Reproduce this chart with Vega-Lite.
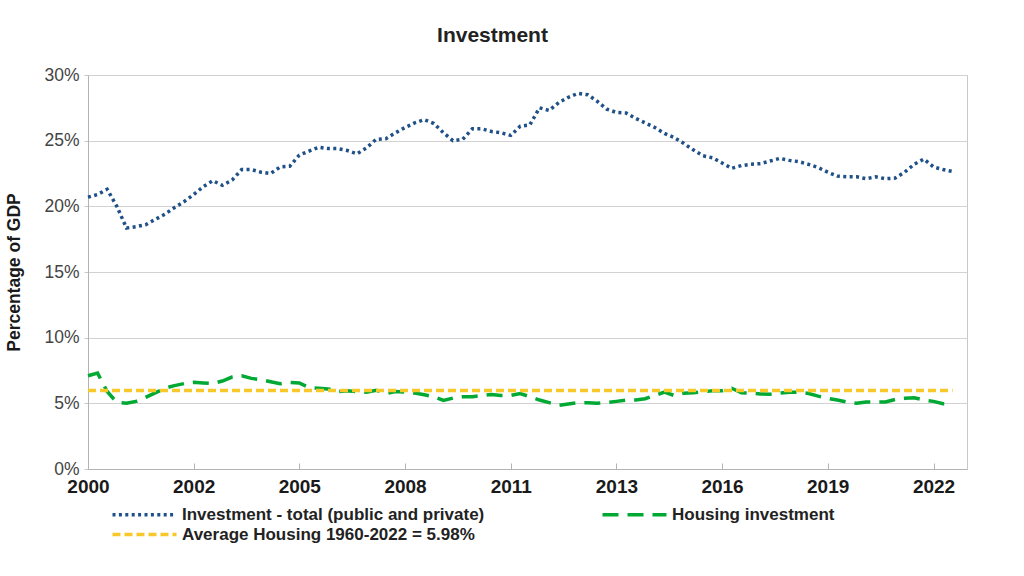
{
  "$schema": "https://vega.github.io/schema/vega-lite/v6.json",
  "width": 879,
  "height": 394,
  "autosize": {"type": "none"},
  "padding": {"left": 88, "top": 75, "right": 57, "bottom": 107},
  "background": "white",
  "config": {
    "font": "Liberation Sans",
    "view": {"stroke": "#c8c8c8", "strokeWidth": 1}
  },
  "title": {
    "text": "Investment",
    "fontSize": 21,
    "fontWeight": "bold",
    "color": "#222222",
    "anchor": "middle",
    "frame": "group",
    "baseline": "alphabetic",
    "offset": 3,
    "dx": -35
  },
  "data": {
    "values": [
      {"date": "2000-01-01", "investment": 20.7, "housing": 7.1},
      {"date": "2000-04-01", "investment": 20.9, "housing": 7.3},
      {"date": "2000-07-01", "investment": 21.3, "housing": 5.9},
      {"date": "2000-10-01", "investment": 20.0, "housing": 5.07},
      {"date": "2001-01-01", "investment": 18.35, "housing": 5.0},
      {"date": "2001-04-01", "investment": 18.45, "housing": 5.15},
      {"date": "2001-07-01", "investment": 18.6, "housing": 5.45},
      {"date": "2001-10-01", "investment": 19.0, "housing": 5.8},
      {"date": "2002-01-01", "investment": 19.4, "housing": 6.15},
      {"date": "2002-04-01", "investment": 19.9, "housing": 6.35},
      {"date": "2002-07-01", "investment": 20.35, "housing": 6.5},
      {"date": "2002-10-01", "investment": 20.9, "housing": 6.6},
      {"date": "2003-01-01", "investment": 21.5, "housing": 6.55},
      {"date": "2003-04-01", "investment": 21.95, "housing": 6.5},
      {"date": "2003-07-01", "investment": 21.6, "housing": 6.7},
      {"date": "2003-10-01", "investment": 22.0, "housing": 7.0},
      {"date": "2004-01-01", "investment": 22.8, "housing": 7.1},
      {"date": "2004-04-01", "investment": 22.8, "housing": 6.9},
      {"date": "2004-07-01", "investment": 22.6, "housing": 6.8},
      {"date": "2004-10-01", "investment": 22.5, "housing": 6.65},
      {"date": "2005-01-01", "investment": 23.0, "housing": 6.5},
      {"date": "2005-04-01", "investment": 23.05, "housing": 6.6},
      {"date": "2005-07-01", "investment": 23.9, "housing": 6.55},
      {"date": "2005-10-01", "investment": 24.2, "housing": 6.2},
      {"date": "2006-01-01", "investment": 24.5, "housing": 6.15},
      {"date": "2006-04-01", "investment": 24.4, "housing": 6.1},
      {"date": "2006-07-01", "investment": 24.4, "housing": 5.9},
      {"date": "2006-10-01", "investment": 24.25, "housing": 5.95},
      {"date": "2007-01-01", "investment": 24.0, "housing": 5.9},
      {"date": "2007-04-01", "investment": 24.45, "housing": 5.85},
      {"date": "2007-07-01", "investment": 25.1, "housing": 6.0},
      {"date": "2007-10-01", "investment": 25.15, "housing": 5.75},
      {"date": "2008-01-01", "investment": 25.6, "housing": 5.9},
      {"date": "2008-04-01", "investment": 26.0, "housing": 5.85},
      {"date": "2008-07-01", "investment": 26.35, "housing": 5.78},
      {"date": "2008-10-01", "investment": 26.6, "housing": 5.65},
      {"date": "2009-01-01", "investment": 26.3, "housing": 5.5},
      {"date": "2009-04-01", "investment": 25.6, "housing": 5.22},
      {"date": "2009-07-01", "investment": 25.0, "housing": 5.4},
      {"date": "2009-10-01", "investment": 25.1, "housing": 5.5},
      {"date": "2010-01-01", "investment": 25.9, "housing": 5.5},
      {"date": "2010-04-01", "investment": 25.9, "housing": 5.6},
      {"date": "2010-07-01", "investment": 25.7, "housing": 5.68},
      {"date": "2010-10-01", "investment": 25.6, "housing": 5.6},
      {"date": "2011-01-01", "investment": 25.4, "housing": 5.6},
      {"date": "2011-04-01", "investment": 26.1, "housing": 5.75},
      {"date": "2011-07-01", "investment": 26.2, "housing": 5.5},
      {"date": "2011-10-01", "investment": 27.5, "housing": 5.25},
      {"date": "2012-01-01", "investment": 27.3, "housing": 5.05},
      {"date": "2012-04-01", "investment": 27.9, "housing": 4.85},
      {"date": "2012-07-01", "investment": 28.3, "housing": 4.95},
      {"date": "2012-10-01", "investment": 28.6, "housing": 5.05},
      {"date": "2013-01-01", "investment": 28.5, "housing": 5.05},
      {"date": "2013-04-01", "investment": 28.0, "housing": 5.0},
      {"date": "2013-07-01", "investment": 27.4, "housing": 5.05},
      {"date": "2013-10-01", "investment": 27.15, "housing": 5.15},
      {"date": "2014-01-01", "investment": 27.1, "housing": 5.25},
      {"date": "2014-04-01", "investment": 26.7, "housing": 5.26},
      {"date": "2014-07-01", "investment": 26.35, "housing": 5.35},
      {"date": "2014-10-01", "investment": 26.0, "housing": 5.6},
      {"date": "2015-01-01", "investment": 25.55, "housing": 5.85},
      {"date": "2015-04-01", "investment": 25.25, "housing": 5.6},
      {"date": "2015-07-01", "investment": 24.8, "housing": 5.77},
      {"date": "2015-10-01", "investment": 24.3, "housing": 5.8},
      {"date": "2016-01-01", "investment": 23.85, "housing": 5.88},
      {"date": "2016-04-01", "investment": 23.7, "housing": 5.95},
      {"date": "2016-07-01", "investment": 23.3, "housing": 5.96},
      {"date": "2016-10-01", "investment": 22.9, "housing": 6.15},
      {"date": "2017-01-01", "investment": 23.1, "housing": 5.8},
      {"date": "2017-04-01", "investment": 23.2, "housing": 5.78},
      {"date": "2017-07-01", "investment": 23.25, "housing": 5.72},
      {"date": "2017-10-01", "investment": 23.45, "housing": 5.7},
      {"date": "2018-01-01", "investment": 23.65, "housing": 5.78},
      {"date": "2018-04-01", "investment": 23.5, "housing": 5.85},
      {"date": "2018-07-01", "investment": 23.4, "housing": 5.85},
      {"date": "2018-10-01", "investment": 23.2, "housing": 5.75},
      {"date": "2019-01-01", "investment": 22.95, "housing": 5.55},
      {"date": "2019-04-01", "investment": 22.6, "housing": 5.38},
      {"date": "2019-07-01", "investment": 22.3, "housing": 5.25},
      {"date": "2019-10-01", "investment": 22.25, "housing": 5.1},
      {"date": "2020-01-01", "investment": 22.25, "housing": 5.0},
      {"date": "2020-04-01", "investment": 22.1, "housing": 5.1},
      {"date": "2020-07-01", "investment": 22.25, "housing": 5.1},
      {"date": "2020-10-01", "investment": 22.1, "housing": 5.1},
      {"date": "2021-01-01", "investment": 22.15, "housing": 5.3},
      {"date": "2021-04-01", "investment": 22.6, "housing": 5.38},
      {"date": "2021-07-01", "investment": 23.2, "housing": 5.43},
      {"date": "2021-10-01", "investment": 23.6, "housing": 5.25},
      {"date": "2022-01-01", "investment": 23.0, "housing": 5.15},
      {"date": "2022-04-01", "investment": 22.8, "housing": 4.97},
      {"date": "2022-07-01", "investment": 22.65, "housing": 4.95}
    ]
  },
  "encoding": {
    "x": {
      "field": "date",
      "type": "temporal",
      "scale": {
        "domain": [
          {"year": 2000, "month": 1, "date": 1},
          {"year": 2022, "month": 11, "date": 15}
        ]
      },
      "axis": {
        "title": null,
        "format": "%Y",
        "values": [
          {"year": 2000, "month": 1, "date": 1},
          {"year": 2002, "month": 10, "date": 1},
          {"year": 2005, "month": 7, "date": 1},
          {"year": 2008, "month": 4, "date": 1},
          {"year": 2011, "month": 1, "date": 1},
          {"year": 2013, "month": 10, "date": 1},
          {"year": 2016, "month": 7, "date": 1},
          {"year": 2019, "month": 4, "date": 1},
          {"year": 2022, "month": 1, "date": 1}
        ],
        "grid": false,
        "domainColor": "#b3b3b3",
        "tickColor": "#b3b3b3",
        "tickSize": -6,
        "labelPadding": 14,
        "labelFontSize": 19,
        "labelFontWeight": "bold",
        "labelColor": "#1a1a1a",
        "labelAlign": "center",
        "labelFlush": false,
        "labelOverlap": false
      }
    },
    "y": {
      "field": "value",
      "type": "quantitative",
      "scale": {"domain": [0, 30], "nice": false},
      "axis": {
        "title": "Percentage of GDP",
        "titleFontSize": 17.5,
        "titleFontWeight": "bold",
        "titleColor": "#1a1a1a",
        "titleX": -65,
        "values": [0, 5, 10, 15, 20, 25, 30],
        "labelExpr": "datum.value + '%'",
        "labelFontSize": 17.5,
        "labelColor": "#444444",
        "labelPadding": 5,
        "tickSize": 4,
        "tickColor": "#c8c8c8",
        "domainColor": "#b3b3b3",
        "gridColor": "#d2d2d2",
        "gridWidth": 1
      }
    },
    "color": {
      "field": "series",
      "type": "nominal",
      "scale": {
        "domain": ["investment", "housing", "average"],
        "range": ["#1f5087", "#00a933", "#f7c82a"]
      },
      "legend": {
        "title": null,
        "orient": "none",
        "legendX": 21,
        "legendY": 431,
        "direction": "horizontal",
        "columns": 2,
        "columnPadding": 110,
        "rowPadding": 2,
        "symbolType": "M-6.4,0H6.4",
        "symbolSize": 100,
        "symbolOffset": 27,
        "symbolStrokeWidth": 3.5,
        "labelFontSize": 17,
        "labelFontWeight": "bold",
        "labelColor": "#222222",
        "labelLimit": 400,
        "labelOffset": 29,
        "labelExpr": "datum.label == 'investment' ? 'Investment - total (public and private)' : datum.label == 'housing' ? 'Housing investment' : 'Average Housing 1960-2022 = 5.98%'"
      }
    },
    "strokeDash": {
      "field": "series",
      "type": "nominal",
      "scale": {
        "domain": ["investment", "housing", "average"],
        "range": [[3, 3.4], [16, 9], [8, 4]]
      },
      "legend": null
    }
  },
  "layer": [
    {
      "transform": [
        {"fold": ["investment", "housing"], "as": ["series", "value"]}
      ],
      "mark": {"type": "line", "strokeWidth": 3.5}
    },
    {
      "data": {
        "values": [
          {"date": "2000-01-01", "series": "average", "value": 5.98},
          {"date": "2022-07-01", "series": "average", "value": 5.98}
        ]
      },
      "mark": {"type": "line", "strokeWidth": 3.5}
    }
  ]
}
